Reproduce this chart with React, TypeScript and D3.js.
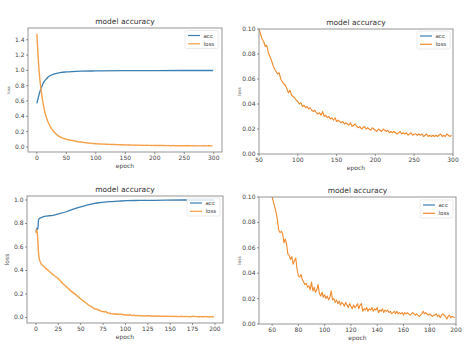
import React from 'react';
import * as d3 from 'd3';

// top row: 300 epochs run
const acc1Epochs = [0, 2, 4, 6, 8, 10, 12, 14, 16, 18, 20, 25, 30, 35, 40, 50, 60, 75, 100, 150, 200, 250, 299];
const acc1Values = [0.57, 0.63, 0.69, 0.74, 0.78, 0.82, 0.85, 0.87, 0.89, 0.905, 0.92, 0.94, 0.955, 0.965, 0.972, 0.98, 0.985, 0.99, 0.993, 0.996, 0.998, 0.999, 0.999];
const loss1EarlyEpochs = [0, 2, 4, 6, 8, 10, 12, 14, 16, 18, 20, 22, 24, 26, 28, 30, 32, 34, 36, 38, 40, 42, 44, 46, 48];
const loss1EarlyValues = [1.48, 1.2, 0.98, 0.82, 0.7, 0.6, 0.51, 0.44, 0.39, 0.345, 0.31, 0.28, 0.25, 0.225, 0.205, 0.19, 0.175, 0.16, 0.148, 0.137, 0.128, 0.121, 0.114, 0.108, 0.104];
// epochs 50..298, every 2nd epoch
const loss1Late = [
  0.100, 0.096, 0.092, 0.090, 0.086, 0.087, 0.081, 0.078, 0.075, 0.071,
  0.068, 0.066, 0.064, 0.065, 0.060, 0.058, 0.056, 0.055, 0.052, 0.049,
  0.051, 0.047, 0.046, 0.045, 0.043, 0.042, 0.040, 0.041, 0.038, 0.039,
  0.037, 0.038, 0.036, 0.037, 0.035, 0.034, 0.035, 0.033, 0.032, 0.033,
  0.031, 0.034, 0.030, 0.031, 0.029, 0.030, 0.028, 0.029, 0.027, 0.029,
  0.026, 0.027, 0.026, 0.025, 0.026, 0.024, 0.025, 0.024, 0.023, 0.025,
  0.022, 0.023, 0.024, 0.022, 0.021, 0.022, 0.020, 0.021, 0.022, 0.020,
  0.021, 0.020, 0.019, 0.021, 0.020, 0.019, 0.018, 0.020, 0.019, 0.018,
  0.020, 0.019, 0.018, 0.019, 0.017, 0.018, 0.017, 0.018, 0.017, 0.016,
  0.017, 0.018, 0.016, 0.017, 0.016, 0.017, 0.015, 0.016, 0.017, 0.015,
  0.016, 0.016, 0.015, 0.016, 0.015, 0.016, 0.014, 0.015, 0.016, 0.014,
  0.015, 0.014, 0.015, 0.014, 0.015, 0.014, 0.015, 0.016, 0.014, 0.015,
  0.014, 0.016, 0.015, 0.014, 0.015,
];
const loss1LateStart = 50;
const loss1LateStep = 2;

// bottom row: 200 epochs run
const acc3Epochs = [0, 1, 2, 3, 5, 8, 11, 15, 19, 26, 34, 41, 52, 64, 71, 82, 92, 101, 115, 127, 145, 164, 199];
const acc3Values = [0.73, 0.76, 0.75, 0.835, 0.848, 0.856, 0.862, 0.866, 0.87, 0.883, 0.9, 0.92, 0.946, 0.969, 0.977, 0.986, 0.99, 0.994, 0.996, 0.997, 0.999, 1.0, 1.0];
const loss3EarlyEpochs = [0, 1, 2, 3, 4, 5, 6, 8, 10, 13, 16, 20, 25, 30, 35, 40, 45, 50, 54];
const loss3EarlyValues = [0.72, 0.75, 0.67, 0.54, 0.49, 0.47, 0.455, 0.44, 0.425, 0.405, 0.385, 0.36, 0.33, 0.29, 0.255, 0.22, 0.19, 0.158, 0.135];
// epochs 55..199, every epoch
const loss3Late = [
  0.130, 0.123, 0.117, 0.111, 0.105, 0.100, 0.096, 0.092, 0.088, 0.082,
  0.074, 0.072, 0.073, 0.071, 0.064, 0.067, 0.063, 0.055, 0.054, 0.051,
  0.053, 0.047, 0.050, 0.052, 0.043, 0.038, 0.037, 0.039, 0.035, 0.033,
  0.031, 0.032, 0.029, 0.030, 0.027, 0.033, 0.026, 0.029, 0.025, 0.027,
  0.031, 0.024, 0.022, 0.025, 0.021, 0.023, 0.020, 0.022, 0.019, 0.021,
  0.026, 0.019, 0.020, 0.017, 0.019, 0.016, 0.018, 0.015, 0.017, 0.016,
  0.014, 0.017, 0.015, 0.013, 0.016, 0.014, 0.012, 0.015, 0.013, 0.014,
  0.016, 0.012, 0.015, 0.016, 0.010, 0.012, 0.011, 0.013, 0.010, 0.012,
  0.011, 0.013, 0.010, 0.012, 0.011, 0.013, 0.009, 0.011, 0.010, 0.012,
  0.009, 0.011, 0.010, 0.011, 0.009, 0.010, 0.008, 0.009, 0.010, 0.008,
  0.010, 0.008, 0.009, 0.008, 0.009, 0.007, 0.009, 0.008, 0.009, 0.008,
  0.007, 0.008, 0.009, 0.008, 0.007, 0.008, 0.007, 0.006, 0.007, 0.008,
  0.010, 0.008, 0.009, 0.008, 0.007, 0.008, 0.007, 0.006, 0.007, 0.007,
  0.008, 0.006, 0.007, 0.005, 0.007, 0.008, 0.007, 0.006, 0.004, 0.006,
  0.007, 0.005, 0.006, 0.0055, 0.005,
];
const loss3LateStart = 55;

const ticks1X = [0, 50, 100, 150, 200, 250, 300];
const ticks1Y = [0, 0.2, 0.4, 0.6, 0.8, 1.0, 1.2, 1.4];
const ticks2X = [50, 100, 150, 200, 250, 300];
const ticksZoomY = [0, 0.02, 0.04, 0.06, 0.08, 0.1];
const ticks3X = [0, 25, 50, 75, 100, 125, 150, 175, 200];
const ticks3Y = [0, 0.2, 0.4, 0.6, 0.8, 1.0];
const ticks4X = [60, 80, 100, 120, 140, 160, 180, 200];

const legendLabels = ['acc', 'loss'];
const BLUE = '#3c7fb4';
const ORANGE = '#f5a048';
const FONT = 'DejaVu Sans, sans-serif';

type Pt = [number, number];
const zip = (xs: number[], ys: number[]): Pt[] => xs.map((x, i) => [x, ys[i]] as Pt);
const seq = (start: number, step: number, ys: number[]): Pt[] => ys.map((y, i) => [start + i * step, y] as Pt);

const acc1 = zip(acc1Epochs, acc1Values);
const loss1 = [...zip(loss1EarlyEpochs, loss1EarlyValues), ...seq(loss1LateStart, loss1LateStep, loss1Late)];
const acc3 = zip(acc3Epochs, acc3Values);
const loss3 = [...zip(loss3EarlyEpochs, loss3EarlyValues), ...seq(loss3LateStart, 1, loss3Late)];

interface PanelProps {
  id: string;
  left: number; top: number; right: number; bottom: number;
  xDomain: [number, number]; yDomain: [number, number];
  xTicks: number[]; yTicks: number[]; yFmt: string;
  acc: Pt[]; loss: Pt[];
  smooth: boolean;
  lossColor: string;
  legendX: number; legendY: number;
  ylabelSize: number;
}

function Panel(p: PanelProps) {
  const x = d3.scaleLinear().domain(p.xDomain).range([p.left, p.right]);
  const y = d3.scaleLinear().domain(p.yDomain).range([p.bottom, p.top]);
  const line = d3.line<Pt>().x(d => x(d[0])).y(d => y(d[1]));
  const smoothLine = d3.line<Pt>().x(d => x(d[0])).y(d => y(d[1])).curve(d3.curveMonotoneX);
  const fmt = d3.format(p.yFmt);
  const cx = (p.left + p.right) / 2;
  return (
    <g>
      <defs>
        <clipPath id={p.id}>
          <rect x={p.left} y={p.top} width={p.right - p.left} height={p.bottom - p.top} />
        </clipPath>
      </defs>
      <g clipPath={`url(#${p.id})`} fill="none">
        <path d={smoothLine(p.acc) || ''} stroke={BLUE} strokeWidth={1.3} />
        <path d={(p.smooth ? smoothLine : line)(p.loss) || ''} stroke={p.lossColor} strokeWidth={p.smooth ? 1.4 : 1.1} strokeLinejoin="round" />
      </g>
      <rect x={p.left} y={p.top} width={p.right - p.left} height={p.bottom - p.top} fill="none" stroke="#8a8a8a" strokeWidth={0.9} />
      {p.xTicks.map(t => (
        <g key={'x' + t}>
          <line x1={x(t)} x2={x(t)} y1={p.bottom} y2={p.bottom + 2} stroke="#666" strokeWidth={0.7} />
          <text x={x(t)} y={p.bottom + 8} fontSize={6} textAnchor="middle" fill="#444" fontFamily={FONT}>{t}</text>
        </g>
      ))}
      {p.yTicks.map(t => (
        <g key={'y' + t}>
          <line x1={p.left - 2} x2={p.left} y1={y(t)} y2={y(t)} stroke="#666" strokeWidth={0.7} />
          <text x={p.left - 3.5} y={y(t) + 2} fontSize={6} textAnchor="end" fill="#444" fontFamily={FONT}>{fmt(t)}</text>
        </g>
      ))}
      <text x={cx} y={p.bottom + 15.5} fontSize={6} textAnchor="middle" fill="#444" fontFamily={FONT}>epoch</text>
      <text x={cx} y={p.top - 4} fontSize={7.5} textAnchor="middle" fill="#333" fontFamily={FONT}>model accuracy</text>
      <text transform={`translate(${p.left - 18},${(p.top + p.bottom) / 2}) rotate(-90)`} fontSize={p.ylabelSize} textAnchor="middle" fill="#555" fontFamily={FONT}>loss</text>
      <g transform={`translate(${p.legendX},${p.legendY})`}>
        <rect x={0} y={0} width={33} height={18} rx={1.5} fill="#fff" fillOpacity={0.8} stroke="#ddd" strokeWidth={0.6} />
        {legendLabels.map((lab, i) => (
          <g key={lab}>
            <line x1={3} x2={15} y1={5 + i * 8.3} y2={5 + i * 8.3} stroke={i === 0 ? BLUE : p.lossColor} strokeWidth={1.2} />
            <text x={18.5} y={7 + i * 8.3} fontSize={5.5} fill="#444" fontFamily={FONT}>{lab}</text>
          </g>
        ))}
      </g>
    </g>
  );
}

export default function App() {
  return (
    <svg width={474} height={351} style={{ position: 'absolute', left: 0, top: 0, background: '#fff' }}>
      <Panel id="c1" left={28} top={28} right={222} bottom={152}
        xDomain={[-15, 314]} yDomain={[-0.066, 1.554]}
        xTicks={ticks1X} yTicks={ticks1Y} yFmt=".1f"
        acc={acc1} loss={loss1} smooth={true} lossColor={ORANGE}
        legendX={185} legendY={30.5} ylabelSize={4} />
      <Panel id="c2" left={259} top={29} right={453} bottom={154}
        xDomain={[50, 300]} yDomain={[0, 0.1]}
        xTicks={ticks2X} yTicks={ticksZoomY} yFmt=".2f"
        acc={acc1} loss={seq(loss1LateStart, loss1LateStep, loss1Late)} smooth={false} lossColor="#ef8a2e"
        legendX={417} legendY={31} ylabelSize={4.5} />
      <Panel id="c3" left={27} top={196} right={223} bottom={323}
        xDomain={[-10, 209]} yDomain={[-0.047, 1.034]}
        xTicks={ticks3X} yTicks={ticks3Y} yFmt=".1f"
        acc={acc3} loss={loss3} smooth={true} lossColor={ORANGE}
        legendX={187} legendY={198} ylabelSize={6} />
      <Panel id="c4" left={259} top={197} right={456} bottom={324}
        xDomain={[50, 200]} yDomain={[0, 0.1]}
        xTicks={ticks4X} yTicks={ticksZoomY} yFmt=".2f"
        acc={acc3} loss={seq(loss3LateStart, 1, loss3Late)} smooth={false} lossColor="#ef8a2e"
        legendX={420} legendY={200} ylabelSize={4.5} />
    </svg>
  );
}
